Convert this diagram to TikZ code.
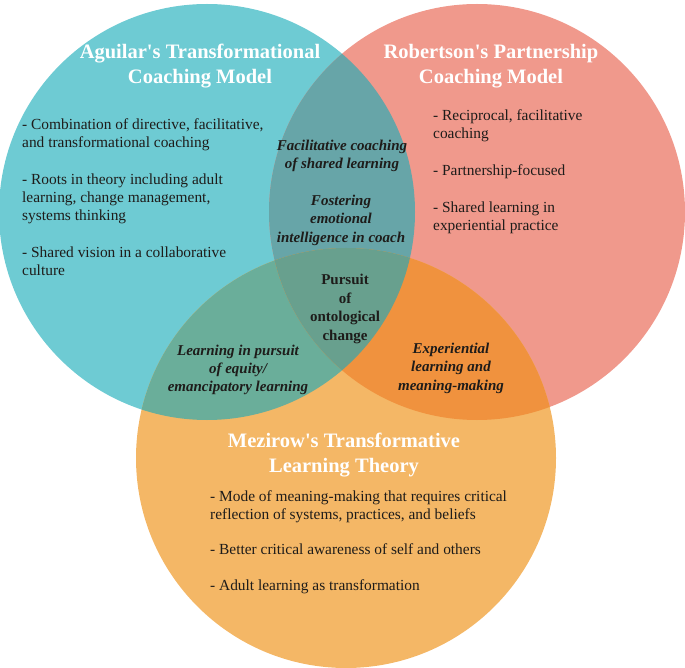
\documentclass[tikz,border=0pt]{standalone}
\usepackage{fontspec}
\setmainfont{Liberation Serif}
\definecolor{cT}{RGB}{110,203,211}
\definecolor{cS}{RGB}{240,153,140}
\definecolor{cO}{RGB}{244,183,102}
\definecolor{cTS}{RGB}{103,165,168}
\definecolor{cTO}{RGB}{106,174,154}
\definecolor{cSO}{RGB}{240,146,62}
\definecolor{cTSO}{RGB}{104,160,142}
\definecolor{ink}{RGB}{30,28,26}
\tikzset{
  ttl/.style={text=white,font=\fontsize{20.5}{24.5}\selectfont\bfseries,align=center,inner sep=0pt},
  body/.style={text=ink,font=\fontsize{15.4}{18}\selectfont,align=left,anchor=north west,inner sep=0pt},
  mid/.style={text=ink,font=\fontsize{15}{18.4}\selectfont\bfseries\itshape,align=center,inner sep=0pt},
  ctr/.style={text=ink,font=\fontsize{15}{18.4}\selectfont\bfseries,align=center,inner sep=0pt}
}
\newcommand{\ap}{\textquotesingle}
\begin{document}
\begin{tikzpicture}[x=1pt,y=-1pt]
\useasboundingbox (0,0) rectangle (685,668);
\def\cA{(207,212) circle (208)}
\def\cB{(477,212) circle (208)}
\def\cC{(346,458) circle (210)}
\fill[cT] \cA;
\fill[cS] \cB;
\fill[cO] \cC;
\begin{scope}\clip \cA; \fill[cTS] \cB; \end{scope}
\begin{scope}\clip \cA; \fill[cTO] \cC; \end{scope}
\begin{scope}\clip \cB; \fill[cSO] \cC; \end{scope}
\begin{scope}\clip \cA; \clip \cB; \fill[cTSO] \cC; \end{scope}

\node[ttl] (t1) at (200,66) {Aguilar\ap s Transformational\\Coaching Model};
\node[ttl] (t2) at (491,66) {Robertson\ap s Partnership\\Coaching Model};
\node[ttl] (t3) at (344,455) {Mezirow\ap s Transformative\\Learning Theory};

\node[body] (b1) at (22,118) {- Combination of directive, facilitative,\\and transformational coaching\\[19pt]- Roots in theory including adult\\learning, change management,\\systems thinking\\[19pt]- Shared vision in a collaborative\\culture};
\node[body] (b2) at (433,109) {- Reciprocal, facilitative\\coaching\\[19pt]- Partnership-focused\\[19pt]- Shared learning in\\experiential practice};
\node[body] (b3) at (210,490) {- Mode of meaning-making that requires critical\\reflection of systems, practices, and beliefs\\[17pt]- Better critical awareness of self and others\\[18pt]- Adult learning as transformation};

\node[mid] (m1) at (342,156) {Facilitative coaching\\of shared learning};
\node[mid] (m2) at (341,220) {Fostering\\emotional\\intelligence in coach};
\node[ctr] (m3) at (345,309) {Pursuit\\of\\ontological\\change};
\node[mid] (m4) at (238,370) {Learning in pursuit\\of equity/\\emancipatory learning};
\node[mid] (m5) at (451,368) {Experiential\\learning and\\meaning-making};
\end{tikzpicture}
\end{document}
